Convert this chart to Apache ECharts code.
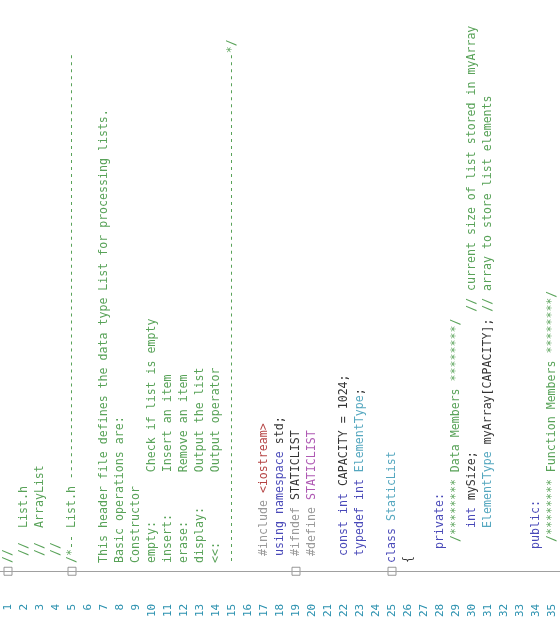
<!DOCTYPE html>
<html><head><meta charset="utf-8">
<script src="https://cdn.jsdelivr.net/npm/echarts@6/dist/echarts.min.js"></script>
<style>html,body{margin:0;background:#fff}#c{width:560px;height:620px}</style>
</head><body><div id="c"></div>
<script>
const lineNumbers = Array.from({length:35},(_,i)=>String(i+1));
// [line, column, text with rich markup]
const codeLines = [
 [1,0,'{c|//}'],
 [2,1,'{c|//  List.h}'],
 [3,1,'{c|//  ArrayList}'],
 [4,1,'{c|//}'],
 [5,0,'{c|/*-- List.h -------------------------------------------------------------}'],
 [7,0,'{c|This header file defines the data type List for processing lists.}'],
 [8,0,'{c|Basic operations are:}'],
 [9,0,'{c|Constructor}'],
 [10,0,'{c|empty:       Check if list is empty}'],
 [11,0,'{c|insert:      Insert an item}'],
 [12,0,'{c|erase:       Remove an item}'],
 [13,0,'{c|display:     Output the list}'],
 [14,0,'{c|<<:          Output operator}'],
 [15,0,'{c|-------------------------------------------------------------------------*/}'],
 [17,1,'{p|#include }{s|<iostream>}'],
 [18,1,'{k|using namespace} std;'],
 [19,1,'{p|#ifndef} STATICLIST'],
 [20,1,'{p|#define} {m|STATICLIST}'],
 [22,1,'{k|const int} CAPACITY = 1024;'],
 [23,1,'{k|typedef int} {t|ElementType};'],
 [25,0,'{k|class} {t|StaticList}'],
 [26,0,'{'],
 [28,2,'{k|private:}'],
 [29,3,'{c|/******** Data Members ********/}'],
 [30,5,'{k|int} mySize;'],
 [30,36,'{c|// current size of list stored in myArray}'],
 [31,5,'{t|ElementType} myArray[CAPACITY];'],
 [31,36,'{c|// array to store list elements}'],
 [34,2,'{k|public:}'],
 [35,3,'{c|/******** Function Members ********/}']
];
const foldLines = [1,5,19,25];

const font = 'DejaVu Sans Mono';
const rich = {
 c:{color:'#2e8b2e',fontFamily:font,fontSize:11.6},
 k:{color:'#1a1aa6',fontFamily:font,fontSize:11.6},
 t:{color:'#2b91af',fontFamily:font,fontSize:11.6},
 p:{color:'#808080',fontFamily:font,fontSize:11.6},
 m:{color:'#9b2fa0',fontFamily:font,fontSize:11.6},
 s:{color:'#a31515',fontFamily:font,fontSize:11.6}
};
const chart = echarts.init(document.getElementById('c'));
chart.setOption({
 animation:false,
 backgroundColor:'#fff',
 grid:{left:0,right:0,top:0,bottom:20},
 xAxis:{type:'category',data:lineNumbers,boundaryGap:true,
   axisLine:{show:false},axisTick:{show:false},
   axisLabel:{rotate:90,color:'#2b91af',fontFamily:font,fontSize:11,margin:6,interval:0}},
 yAxis:{type:'value',min:-5,max:80.714,show:false},
 series:[
  {type:'scatter',symbolSize:0,silent:true,
   data:codeLines.map(d=>({value:[String(d[0]),d[1]],label:{formatter:d[2]}})),
   label:{show:true,position:'inside',rotate:90,align:'left',verticalAlign:'middle',
     color:'#000',fontFamily:font,fontSize:11.6,rich:rich},
   markLine:{silent:true,symbol:'none',label:{show:false},
     lineStyle:{color:'#a0a0a0',type:'solid',width:1},
     data:[{yAxis:-1.2}]}
  },
  {type:'scatter',symbol:'rect',symbolSize:8,silent:true,
   itemStyle:{color:'#fff',borderColor:'#808080',borderWidth:1},
   data:foldLines.map(l=>[String(l),-1.2]),
   label:{show:true,position:'inside',formatter:'-',color:'#555',fontSize:9,fontFamily:font}
  }
 ]
});
</script></body></html>
